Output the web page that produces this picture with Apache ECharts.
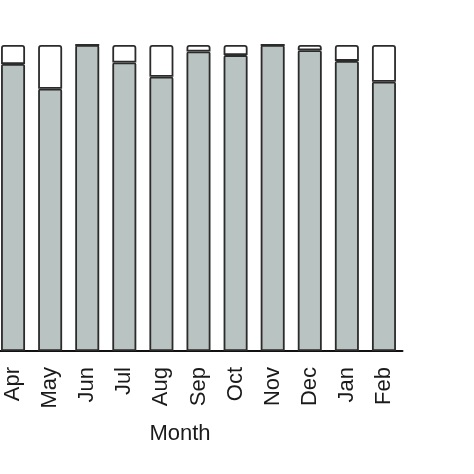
<!DOCTYPE html>
<html>
<head>
<meta charset="utf-8">
<script src="https://cdn.jsdelivr.net/npm/echarts@6/dist/echarts.min.js"></script>
<style>
  html, body { margin: 0; padding: 0; background: #fff; overflow: hidden; }
  /* the first bar is cut by the left edge in the reference, so the chart starts a bit off-page */
  #main { position: absolute; left: -6px; top: 0; width: 480px; height: 474px; }
</style>
</head>
<body>
<div id="main"></div>
<script>
// months along the x axis
var months = ['Apr', 'May', 'Jun', 'Jul', 'Aug', 'Sep', 'Oct', 'Nov', 'Dec', 'Jan', 'Feb'];
// share (%) of the lower grey part of each bar
var greyPart = [93.8, 85.7, 100, 94.3, 89.6, 97.9, 96.7, 100, 98.3, 94.8, 88.0];
// share (%) of the upper white part of each bar
var whitePart = [6.2, 14.3, 0, 5.7, 10.4, 2.1, 3.3, 0, 1.7, 5.2, 12.0];

var chart = echarts.init(document.getElementById('main'));

var option = {
    animation: false,
    backgroundColor: '#ffffff',
    grid: {
        left: 0.5,
        right: 71.5,
        top: 45,
        bottom: 123
    },
    xAxis: {
        type: 'category',
        data: months,
        name: 'Month',
        nameLocation: 'middle',
        nameGap: 72,
        nameTextStyle: {
            fontFamily: 'Liberation Sans, Arial, sans-serif',
            fontSize: 22,
            color: '#1a1a1a',
            padding: [0, 37, 0, 0]
        },
        axisLine: { lineStyle: { color: '#111', width: 2 } },
        axisTick: { alignWithLabel: true, length: 12, lineStyle: { color: '#111', width: 2 } },
        axisLabel: {
            rotate: 90,
            margin: 16,
            fontFamily: 'Liberation Sans, Arial, sans-serif',
            fontSize: 22,
            color: '#1a1a1a'
        }
    },
    yAxis: {
        type: 'value',
        min: 0,
        max: 100,
        show: false
    },
    series: [
        {
            name: 'grey',
            type: 'bar',
            stack: 'total',
            barWidth: 24,
            data: greyPart,
            itemStyle: {
                color: '#b9c3c1',
                borderColor: '#2b2b2b',
                borderWidth: 1.8,
                borderRadius: [1, 1, 0, 0]
            }
        },
        {
            name: 'white',
            type: 'bar',
            stack: 'total',
            barWidth: 24,
            data: whitePart,
            itemStyle: {
                color: '#ffffff',
                borderColor: '#2b2b2b',
                borderWidth: 1.8,
                borderRadius: [2, 2, 0, 0]
            }
        }
    ]
};

chart.setOption(option);
</script>
</body>
</html>
